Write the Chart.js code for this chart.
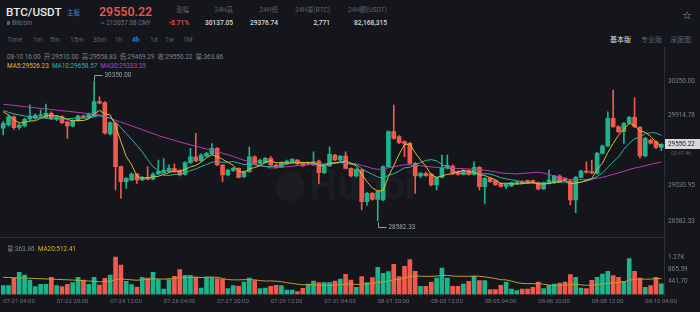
<!DOCTYPE html>
<html><head><meta charset="utf-8">
<script src="https://cdn.jsdelivr.net/npm/chart.js@4.4.0/dist/chart.umd.min.js"></script>
<style>
html,body{margin:0;padding:0;background:#15161b;}
#wrap{position:relative;width:700px;height:312px;overflow:hidden;background:#15161b;font-family:Roboto,"Noto Sans CJK SC",sans-serif;}
.t{position:absolute;white-space:nowrap;line-height:1;}
.r{text-align:right;}
canvas{position:absolute;left:0;z-index:1;}
</style></head>
<body><div id="wrap">
<div class="t" style="left:6px;top:7px;font-size:11.7px;font-weight:500;color:#e9eaec">BTC/USDT</div>
<div class="t" style="left:67px;top:10px;font-size:6.5px;color:#3b82e6">主板</div>
<div style="position:absolute;left:7px;top:21px;width:3px;height:4px;background:#5a606b"></div>
<div class="t" style="left:12px;top:20px;font-size:6.5px;color:#6e7480">Bitcoin</div>
<div class="t" style="left:99px;top:6px;font-size:12.5px;font-weight:500;color:#ee5b50">29550.22</div>
<div class="t" style="left:101px;top:20px;font-size:6.4px;color:#6e7480">≈ 213057.08 CNY</div>

<div class="t r" style="right:511px;top:7px;font-size:6.5px;color:#5c626d">涨幅</div>
<div class="t r" style="right:511px;top:20px;font-size:6.6px;font-weight:500;color:#ee5b50">-0.71%</div>
<div class="t r" style="right:467px;top:7px;font-size:6.5px;color:#5c626d">24H高</div>
<div class="t r" style="right:467px;top:20px;font-size:6.6px;font-weight:500;color:#d9dbde">30137.05</div>
<div class="t r" style="right:422px;top:7px;font-size:6.5px;color:#5c626d">24H低</div>
<div class="t r" style="right:422px;top:20px;font-size:6.6px;font-weight:500;color:#d9dbde">29376.74</div>
<div class="t r" style="right:370px;top:7px;font-size:6.5px;color:#5c626d">24H量(BTC)</div>
<div class="t r" style="right:370px;top:20px;font-size:6.6px;font-weight:500;color:#d9dbde">2,771</div>
<div class="t r" style="right:313px;top:7px;font-size:6.5px;color:#5c626d">24H额(USDT)</div>
<div class="t r" style="right:313px;top:20px;font-size:6.6px;font-weight:500;color:#d9dbde">82,168,315</div>
<div class="t" style="left:682px;top:10px;font-size:11px;color:#9aa0aa;font-family:'DejaVu Sans'">☆</div>

<div class="t" style="left:7px;top:37px;font-size:6.7px;color:#5b616c">Time</div>
<div class="t" style="left:33px;top:37px;font-size:6.7px;color:#5b616c">1m</div>
<div class="t" style="left:50px;top:37px;font-size:6.7px;color:#5b616c">5m</div>
<div class="t" style="left:70px;top:37px;font-size:6.7px;color:#5b616c">15m</div>
<div class="t" style="left:93px;top:37px;font-size:6.7px;color:#5b616c">30m</div>
<div class="t" style="left:115px;top:37px;font-size:6.7px;color:#5b616c">1h</div>
<div class="t" style="left:132px;top:37px;font-size:6.7px;color:#3b82e6;font-weight:500">4h</div>
<div class="t" style="left:150px;top:37px;font-size:6.7px;color:#5b616c">1d</div>
<div class="t" style="left:165px;top:37px;font-size:6.7px;color:#5b616c">1w</div>
<div class="t" style="left:183px;top:37px;font-size:6.7px;color:#5b616c">1M</div>
<div class="t" style="left:610px;top:37px;font-size:7px;color:#e0e2e5">基本版</div>
<div class="t" style="left:641px;top:37px;font-size:7px;color:#5b616c">专业版</div>
<div class="t" style="left:670px;top:37px;font-size:7px;color:#5b616c">深度图</div>

<div class="t" style="left:7px;top:54px;font-size:6.4px;color:#7f8591">08-10 16:00&nbsp; 开:29510.00&nbsp; 高:29558.83&nbsp; 低:29469.29&nbsp; 收:29550.22&nbsp; 量:363.86</div>
<div class="t" style="left:7px;top:63px;font-size:6.4px;"><span style="color:#e2b935">MA5:29526.23</span>&nbsp;&nbsp;<span style="color:#2fb4a7">MA10:29658.57</span>&nbsp;&nbsp;<span style="color:#c03dbd">MA30:29333.35</span></div>
<div class="t" style="left:7px;top:246px;font-size:6.4px;z-index:2"><span style="color:#7f8591">量:363.86</span>&nbsp;&nbsp;<span style="color:#dcb62b">MA20:512.41</span></div>

<div style="position:absolute;left:276px;top:171px;width:28px;height:30px;border-radius:50% 50% 45% 45%;background:rgba(255,255,255,0.03)"></div>
<div class="t" style="left:309px;top:166px;font-size:40px;font-weight:700;color:rgba(255,255,255,0.035);font-family:Roboto">Huobi</div>

<canvas id="price" width="700" height="191" style="top:47px"></canvas>
<canvas id="vol" width="700" height="74" style="top:238px"></canvas>
</div>
<script>
const opens  = [29753,29794,29899,29765,29782,29870,29880,29910,29891,29942,29866,29899,29836,29782,29849,29908,29891,29908,30089,30076,29681,29816,29268,29079,29100,29176,29100,29134,29109,29176,29195,29205,29247,29218,29170,29319,29394,29345,29400,29430,29500,29289,29163,29220,29247,29142,29205,29394,29310,29320,29373,29289,29265,29310,29331,29352,29310,29300,29290,29340,29192,29277,29416,29352,29403,29247,29150,29226,28826,28932,28856,28850,29268,29710,29647,29584,29563,29310,29150,29184,29176,29037,29134,29250,29275,29205,29175,29218,29170,29260,29016,29121,29092,29058,29020,29024,29055,29079,29092,29092,29066,28987,29058,29066,29150,29121,29090,28847,29134,29214,29205,29184,29437,29529,29879,29773,29710,29816,29891,29765,29403,29605,29584,29510];
const highs  = [29840,29920,29910,29810,29880,30050,29935,29985,30060,29960,29915,29910,29845,29860,29920,29920,29945,30350,30150,30090,29835,29825,29275,29130,29190,29185,29145,29268,29190,29352,29370,29290,29300,29230,29330,29500,29690,29430,29450,29560,29510,29295,29235,29260,29255,29215,29520,29405,29365,29385,29400,29300,29330,29350,29370,29360,29315,29325,29455,29350,29285,29520,29425,29410,29457,29255,29245,29235,28945,28940,28965,29280,29720,30047,29660,29595,29575,29320,29195,29200,29185,29140,29416,29415,29290,29215,29230,29230,29331,29270,29130,29130,29100,29065,29055,29075,29085,29090,29100,29100,29075,29075,29226,29160,29165,29130,29100,29145,29225,29331,29352,29450,29540,29962,30236,29785,29825,29905,30137.05,29775,29640,29615,29595,29558.83];
const lows   = [29668,29780,29740,29740,29770,29850,29865,29895,29880,29865,29850,29810,29626,29770,29840,29880,29880,29900,30060,29680,29670,28974,28869,28995,29090,29058,29090,29100,29100,29165,29185,29195,29195,29150,29160,29310,29330,29335,29390,29420,29280,29079,29150,29205,29125,29130,29195,29300,29300,29310,29280,29250,29255,29300,29325,29295,29270,29290,29280,29058,29180,29270,29345,29340,29240,29140,29140,28721,28780,28845,28582.33,28840,29260,29615,29560,29394,29300,28932,29130,29145,29025,28974,29125,29240,29175,29160,29165,29160,29160,28974,28805,29070,29030,29010,28995,29015,29045,29050,29055,29060,28975,28980,29050,29055,29070,29085,28784,28687,29125,29185,29180,29175,29425,29520,29765,29700,29563,29805,29760,29376.74,29390,29555,29495,29469.29];
const closes = [29816,29899,29760,29794,29866,29905,29915,29920,29942,29879,29900,29824,29782,29849,29908,29890,29933,30089,30070,29690,29824,29268,29079,29121,29176,29100,29134,29110,29176,29210,29226,29247,29205,29163,29319,29394,29340,29416,29437,29500,29289,29163,29226,29247,29134,29205,29394,29310,29352,29373,29289,29262,29319,29340,29361,29305,29280,29318,29331,29192,29277,29424,29352,29400,29247,29150,29235,28826,28932,28856,28953,29268,29710,29626,29571,29555,29310,29150,29184,29155,29037,29134,29247,29285,29184,29170,29218,29170,29260,29016,29121,29080,29040,29020,29045,29066,29075,29060,29065,29070,28987,29066,29100,29150,29079,29095,28847,29134,29214,29195,29190,29437,29529,29879,29773,29710,29816,29891,29773,29403,29626,29565,29510,29550.22];
const volumes = [299,299,549,752,661,492,266,345,345,582,299,266,345,401,582,492,345,582,322,549,661,1270,1000,447,334,254,582,560,752,503,186,503,616,842,650,650,582,220,594,582,537,514,198,300,277,424,560,470,198,220,277,311,299,153,153,96,209,356,458,401,401,401,458,526,684,492,243,605,401,571,922,718,775,1024,605,955,1182,786,277,277,424,560,898,560,277,277,356,447,616,469,469,164,164,311,424,186,130,186,186,243,424,198,311,356,390,424,673,582,220,198,480,582,695,786,639,582,447,1215,786,560,243,300,582,363.86];

// indicator values before enough history is on screen
const ma5Lead  = [29960,29920,29860,29820];
const ma10Lead = [29975,29955,29935,29920,29910,29900,29893,29887,29880];
const ma30Lead = [30057,30049,30042,30034,30027,30019,30012,30005,29997,29990,29982,29975,29967,29961,29953,29946,29938,29931,29923,29900,29878,29855,29832,29808,29784,29760,29735,29710,29686];
const volMa20Lead = [582,576,570,563,556,549,542,535,528,521,514,506,498,490,480,468,456,444,432];

const priceTicks = [30350.00, 29914.78, 29030.95, 28582.33];
const volTicks = [441.70, 865.59, 1270];
const volTickLabels = ['441.70', '865.59', '1.27K'];
const xTickLabels = ['07-21 04:00','07-22 20:00','07-24 12:00','07-26 04:00','07-27 20:00','07-29 12:00','07-31 04:00','08-01 20:00','08-03 12:00','08-05 04:00','08-06 20:00','08-08 12:00','08-10 04:00'];
const countdown = '02:47:46';

const categories = [];
(function(){
  const p = n => String(n).padStart(2,'0');
  const t0 = Date.UTC(2023,6,21,4);
  for (let i = 0; i < closes.length; i++) {
    const d = new Date(t0 + i*4*3600e3);
    categories.push(p(d.getUTCMonth()+1)+'-'+p(d.getUTCDate())+' '+p(d.getUTCHours())+':00');
  }
})();

function movingAverage(src, n, lead) {
  return src.map((_, i) => i < n-1 ? lead[i] : src.slice(i-n+1, i+1).reduce((a,b)=>a+b,0)/n);
}
const ma5 = movingAverage(closes, 5, ma5Lead);
const ma10 = movingAverage(closes, 10, ma10Lead);
const ma30 = movingAverage(closes, 30, ma30Lead);
const volMa20 = movingAverage(volumes, 20, volMa20Lead);

const UP = '#1db38b', DOWN = '#f0594b';
const colors = closes.map((c,i) => c >= opens[i] ? UP : DOWN);
const FONT = 'Roboto';
const BORDER = '#2b2e37';

const pricePlugin = {
  id: 'pricePlugin',
  afterDraw(chart) {
    const {ctx, chartArea: a, scales: {x, y}} = chart;
    ctx.save();
    ctx.strokeStyle = BORDER; ctx.lineWidth = 1;
    ctx.beginPath();
    ctx.moveTo(a.right + 0.5, 0); ctx.lineTo(a.right + 0.5, chart.height);
    ctx.moveTo(0, chart.height - 0.5); ctx.lineTo(a.right, chart.height - 0.5);
    ctx.stroke();
    const hv = Math.max(...highs), lv = Math.min(...lows);
    const hi = highs.indexOf(hv), lo = lows.indexOf(lv);
    ctx.strokeStyle = '#9aa0aa'; ctx.fillStyle = '#9aa0aa';
    ctx.font = '6.4px ' + FONT; ctx.textBaseline = 'middle'; ctx.textAlign = 'left';
    let px = Math.round(x.getPixelForValue(hi)) + 0.5, py = Math.round(y.getPixelForValue(hv) - 6) + 0.5;
    ctx.beginPath(); ctx.moveTo(px, py + 5); ctx.lineTo(px, py); ctx.lineTo(px + 8, py); ctx.stroke();
    ctx.fillText(hv.toFixed(2), px + 10, py);
    px = Math.round(x.getPixelForValue(lo)) + 0.5; py = Math.round(y.getPixelForValue(lv) + 6) + 0.5;
    ctx.beginPath(); ctx.moveTo(px, py - 5); ctx.lineTo(px, py); ctx.lineTo(px + 8, py); ctx.stroke();
    ctx.fillText(lv.toFixed(2), px + 10, py);
    const last = closes[closes.length - 1];
    const cy = y.getPixelForValue(last);
    ctx.fillStyle = '#d6d8dc';
    ctx.fillRect(a.right + 1, Math.round(cy) - 5, 35, 10);
    ctx.fillStyle = '#1a1b20';
    ctx.fillText(last.toFixed(2), a.right + 4, cy);
    ctx.fillStyle = '#5d636e'; ctx.font = '5.2px ' + FONT;
    ctx.fillText(countdown, a.right + 7, cy + 9);
    ctx.restore();
  }
};

const volPlugin = {
  id: 'volPlugin',
  afterDraw(chart) {
    const {ctx, chartArea: a} = chart;
    ctx.save();
    ctx.strokeStyle = BORDER; ctx.lineWidth = 1;
    ctx.beginPath();
    ctx.moveTo(a.right + 0.5, 0); ctx.lineTo(a.right + 0.5, a.bottom + 2);
    ctx.stroke();
    ctx.restore();
  }
};

const lineDs = (data, color) => ({type:'line', data, borderColor:color, borderWidth:1, pointRadius:0, tension:0, order:0});

const priceChart = new Chart(document.getElementById('price'), {
  type: 'bar',
  data: {
    labels: categories,
    datasets: [
      lineDs(ma5, '#e2b935'),
      lineDs(ma10, '#2fb4a7'),
      lineDs(ma30, '#b83cb6'),
      {type:'bar', data: opens.map((o,i)=>[o, closes[i]]), backgroundColor: colors, barThickness: 4, minBarLength: 1, grouped: false, order: 1},
      {type:'bar', data: lows.map((l,i)=>[l, highs[i]]), backgroundColor: colors, barThickness: 1, grouped: false, order: 2}
    ]
  },
  options: {
    responsive: false, animation: false, events: [],
    layout: {padding: 0},
    plugins: {legend: {display: false}, tooltip: {enabled: false}},
    scales: {
      x: {display: false, offset: true},
      y: {
        position: 'right', min: 28367.7, max: 30779.3,
        afterFit(s) { s.width = 36; },
        afterBuildTicks(s) { s.ticks = priceTicks.map(v => ({value: v})); },
        grid: {display: false, drawTicks: true, tickLength: 4},
        border: {display: false},
        ticks: {padding: 0, color: '#7b818d', font: {size: 6.4, family: FONT}, callback: v => Number(v).toFixed(2)}
      }
    }
  },
  plugins: [pricePlugin]
});

const volChart = new Chart(document.getElementById('vol'), {
  type: 'bar',
  data: {
    labels: categories,
    datasets: [
      lineDs(volMa20, '#c29f2e'),
      {type:'bar', data: volumes, backgroundColor: colors, barThickness: 4, order: 1}
    ]
  },
  options: {
    responsive: false, animation: false, events: [],
    layout: {padding: {top: 4}},
    plugins: {legend: {display: false}, tooltip: {enabled: false}},
    scales: {
      x: {
        offset: true,
        grid: {display: false, drawTicks: true, tickLength: 3},
        border: {display: false},
        afterFit(s) { s.height = 17.5; },
        ticks: {autoSkip: false, maxRotation: 0, minRotation: 0, align: 'start', padding: 0, color: '#6d737e', font: {size: 6, family: FONT},
          callback: (v, i) => i % 10 === 0 ? xTickLabels[i / 10] : null}
      },
      y: {
        position: 'right', min: 0, max: 1781,
        afterFit(s) { s.width = 36; },
        afterBuildTicks(s) { s.ticks = volTicks.map(v => ({value: v})); },
        grid: {display: false, drawTicks: true, tickLength: 4},
        border: {display: false},
        ticks: {padding: 0, color: '#7b818d', font: {size: 6.4, family: FONT}, callback: v => volTickLabels[volTicks.indexOf(v)]}
      }
    }
  },
  plugins: [volPlugin]
});

(function(){
  const a = priceChart.chartArea, ppu = 140 / (30350 - 28582.33);
  priceChart.options.scales.y.max = 30350 + (81 - (a.top + 47)) / ppu;
  priceChart.options.scales.y.min = 30350 - ((a.bottom + 47) - 81) / ppu;
  priceChart.update();
  const b = volChart.chartArea, vppu = 12.5 / 424;
  volChart.options.scales.y.max = (294.5 - (b.top + 238)) / vppu;
  volChart.options.scales.y.min = (294.5 - (b.bottom + 238)) / vppu;
  volChart.update();
})();
</script>
</body></html>
